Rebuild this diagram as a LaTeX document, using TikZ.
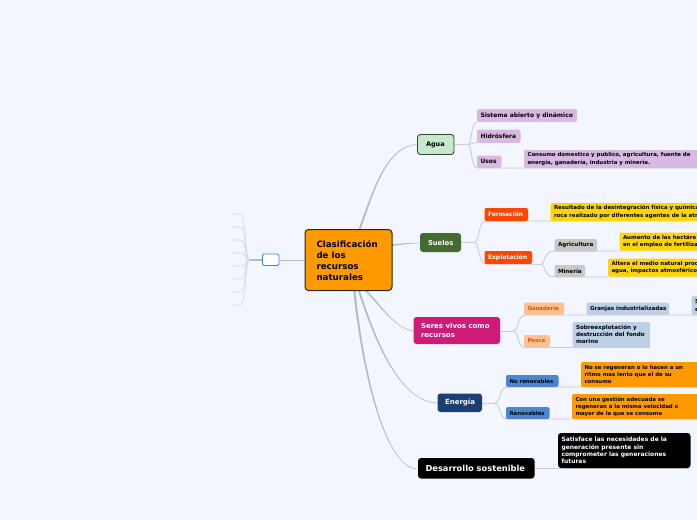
\documentclass[tikz,border=0pt]{standalone}
\usepackage{fontspec}
\setmainfont{DejaVu Sans}
\definecolor{bgc}{HTML}{F3F6FF}
\definecolor{lnk}{HTML}{C9CDD6}
\definecolor{lnkd}{HTML}{B8B9BD}
\definecolor{purp}{HTML}{D9B8E3}
\definecolor{verd}{HTML}{C6E8CC}
\definecolor{moss}{HTML}{436B32}
\definecolor{red1}{HTML}{FF4500}
\definecolor{gold}{HTML}{FFD500}
\definecolor{grey1}{HTML}{C8C8C8}
\definecolor{mag}{HTML}{CF1B78}
\definecolor{peach}{HTML}{FCC293}
\definecolor{lblue}{HTML}{BCD0E8}
\definecolor{navy}{HTML}{1C3F73}
\definecolor{midb}{HTML}{4A86D6}
\definecolor{orng}{HTML}{FF9900}
\definecolor{wblue}{HTML}{2A8CF0}
\tikzset{
 x=1pt,y=-1pt,
 box/.style={font=\bfseries\fontsize{6}{7.3}\selectfont,text=black,align=left,inner sep=0pt,outer sep=0pt,anchor=north west},
 link/.style={draw=lnk,line width=0.9pt},
 linkd/.style={draw=lnkd,line width=1.4pt},
 taper/.style={fill=lnkd,draw=lnkd,line width=0.5pt},
 small54/.style={font=\bfseries\fontsize{5.45}{7.3}\selectfont},
 small56/.style={font=\bfseries\fontsize{5.6}{7}\selectfont},
 tag54/.style={font=\bfseries\fontsize{5.4}{7}\selectfont},
}
% #1 name, #2 x0, #3 y0, #4 x1, #5 y1, #6 style, #7 text, #8 text style
\newcommand{\bx}[8]{%
 \path[rounded corners=2pt,#6] (#2,#3) rectangle (#4,#5);
 \node[inner sep=0pt,outer sep=0pt,minimum width=#4pt-#2pt,minimum height=#5pt-#3pt,anchor=north west] (#1) at (#2,#3) {};
 \node[box,anchor=west,#8] at ([xshift=3.5pt]#1.west) {#7};
}
\begin{document}
\begin{tikzpicture}
\useasboundingbox (0,0) rectangle (697,520);
\clip (0,0) rectangle (697,520);
\fill[bgc] (0,0) rectangle (697,520);

% left fan
\coordinate (jl) at (250,260);
\foreach \i/\yy in {1/214,2/227,3/240,4/253,5/266,6/279,7/292,8/305}{
 \coordinate (lf\i) at (232,\yy);
 \draw[draw=lnk!70!bgc,line width=0.7pt] (jl) .. controls (244,260) and (247,\yy) .. (240,\yy) -- (lf\i);
}

% main branches (tapered from the centre outwards)
\coordinate (aL) at (418,144.5);
\coordinate (sL) at (420,243);
\coordinate (gL) at (414,331);
\coordinate (eL) at (438,403);
\coordinate (dL) at (418,469);
\fill[taper] (358.5,230) .. controls (372,195) and (385,145) .. (aL) .. controls (385,145.4) and (372.8,195.4) .. (360,230) -- cycle;
\fill[taper] (392,244.6) .. controls (400,244) and (410,243) .. (sL) .. controls (410,243) and (400,244.6) .. (392,245.6) -- cycle;
\fill[taper] (364.5,290) .. controls (380,305) and (395,329) .. (gL) .. controls (395,329.4) and (380.7,304.6) .. (366,290) -- cycle;
\fill[taper] (358,290) .. controls (375,342) and (400,402) .. (eL) .. controls (400,402.4) and (376,341.6) .. (359.4,290) -- cycle;
\fill[taper] (353.5,290) .. controls (362,372) and (385,468.5) .. (dL) .. controls (385,469) and (363.4,372) .. (355,290) -- cycle;
\coordinate (smR) at (279,260);
\coordinate (cL) at (305,260);
\draw[lnkd,line width=1pt] (smR) -- (cL);
\coordinate (smL) at (262.5,260);
\draw[lnkd,line width=1.3pt] (jl) -- (smL);

% second level
\coordinate (aR) at (454,144.5);
\coordinate (ja) at (468,144.5);
\draw[link,line width=1.1pt] (aR) -- (ja);
\draw[link] (ja) .. controls (472,144) and (471,122) .. (477,122);
\draw[link] (ja) .. controls (472,144) and (474,142.5) .. (477,142.5) -- (520,142.5);
\draw[link] (ja) .. controls (472,145) and (471,168) .. (477,168) -- (697,168);

\draw[link] (461,242.5) -- (474,242.5);
\draw[link] (474,242.5) .. controls (480,242) and (478,221) .. (486,221) -- (697,221);
\draw[link] (474,242.5) .. controls (480,243) and (478,264) .. (486,264) -- (532,264);
\draw[link] (532,264) -- (541,264);
\draw[link] (541,264) .. controls (546,264) and (542,251) .. (556,251) -- (697,251);
\draw[link] (541,264) .. controls (546,264) and (542,277) .. (556,277) -- (697,277);

\draw[link] (500,331) -- (513,331);
\draw[link] (513,331) .. controls (520,330) and (516,315) .. (526,315) -- (697,315);
\draw[link] (513,331) .. controls (520,332) and (516,347.5) .. (526,347.5) -- (650,347.5);

\draw[link] (482,403) -- (495,403);
\draw[link] (495,403) .. controls (501,402) and (499,387) .. (507,387) -- (697,387);
\draw[link] (495,403) .. controls (501,404) and (499,419) .. (507,419) -- (697,419);

\draw[link] (534.5,468) -- (690,468);

% boxes
\bx{agua}{417.5}{134.5}{454}{154.5}{rounded corners=3pt,fill=verd,draw=moss!70!black,line width=0.9pt}{\hspace{5pt}Agua}{yshift=-0.6pt,font=\bfseries\fontsize{6.5}{8}\selectfont}
\bx{sis}{477}{109}{577}{122}{fill=purp}{Sistema abierto y dinámico}{}
\bx{hid}{477}{129.5}{520.5}{142.5}{fill=purp}{Hidrósfera}{}
\bx{uso}{477}{155.5}{501.5}{168}{fill=purp}{Usos}{}
\bx{con}{524}{150}{700}{168}{fill=purp}{Consumo domestico y publico, agricultura, fuente de\\energía, ganadería, industria y minería.}{small54}

\bx{sue}{420}{233}{461}{252}{rounded corners=3pt,fill=moss}{\hspace{4.5pt}Suelos}{text=white,font=\bfseries\fontsize{6.8}{8}\selectfont}
\bx{for}{484.5}{208}{528}{221}{fill=red1}{Formación}{text=white}
\bx{exp}{484.5}{251}{532}{264}{fill=red1}{Explotación}{text=white}
\bx{res}{550.5}{203}{700}{221}{fill=gold}{Resultado de la desintegración física y química\\roca realizado por diferentes agentes de la atm}{small54}
\bx{agr}{554.5}{239}{597}{251.5}{fill=grey1}{Agricultura}{small56}
\bx{min}{554.5}{265}{585}{277}{fill=grey1}{Minería}{small56}
\bx{aum}{619.5}{232.5}{700}{250.5}{fill=gold}{Aumento de las hectáre\\en el empleo de fertiliza}{small54}
\bx{alt}{608}{258.5}{700}{276.5}{fill=gold}{Altera el medio natural prod\\agua, impactos atmosférico}{small54}

\bx{ser}{413.5}{317}{500}{344}{rounded corners=3pt,fill=mag}{Seres vivos como\\recursos}{xshift=4pt,text=white,font=\bfseries\fontsize{7}{9}\selectfont}
\bx{gan}{524}{302.5}{564}{315}{fill=peach}{Ganadería}{text=red1,tag54}
\bx{pes}{524}{335}{550}{347}{fill=peach}{Pesca}{text=red1,tag54}
\bx{gra}{586.5}{302.5}{669}{315}{fill=lblue}{Granjas industrializadas}{small56}
\bx{gr2}{691.5}{296}{700}{315}{fill=lblue}{S\\e}{small54}
\bx{sob}{572.5}{322}{650}{347.5}{fill=lblue}{Sobreexplotación y\\destrucción del fondo\\marino}{small56}

\bx{nor}{506}{375}{558.5}{387}{fill=midb}{No renovables}{tag54}
\bx{ren}{506}{407}{549.5}{419}{fill=midb}{Renovables}{tag54}
\bx{nos}{581}{362}{700}{387}{fill=orng}{No se regeneran o lo hacen a un\\ritmo mas lento que el de su\\consumo}{tag54}
\bx{cun}{572}{394}{700}{419}{fill=orng}{Con una gestión adecuada se\\regeneran a la misma velocidad o\\mayor de la que se consume}{tag54}
\bx{ene}{437.5}{393.5}{482}{412}{rounded corners=3pt,fill=navy}{\hspace{4pt}Energía}{text=white,font=\bfseries\fontsize{7}{8}\selectfont}
\bx{des}{418}{458}{534.5}{478.5}{rounded corners=3pt,fill=black}{\hspace{4pt}Desarrollo sostenible}{text=white,font=\bfseries\fontsize{8.3}{9}\selectfont}
\bx{sat}{558}{433}{690.5}{468}{rounded corners=3pt,fill=black}{Satisface las necesidades de la\\generación presente sin\\comprometer las generaciones\\futuras}{text=white,font=\bfseries\fontsize{6}{7.2}\selectfont}

\bx{cen}{305}{229.5}{392}{290.5}{rounded corners=3.5pt,fill=orng,draw=black!85,line width=1pt}{Clasificación\\de los\\recursos\\naturales}{xshift=8pt,yshift=-1pt,font=\bfseries\fontsize{8.7}{11}\selectfont}
\path[fill=white,draw=wblue,line width=0.8pt,rounded corners=1.5pt] (262.5,254) rectangle (279,265.5);
\end{tikzpicture}
\end{document}
